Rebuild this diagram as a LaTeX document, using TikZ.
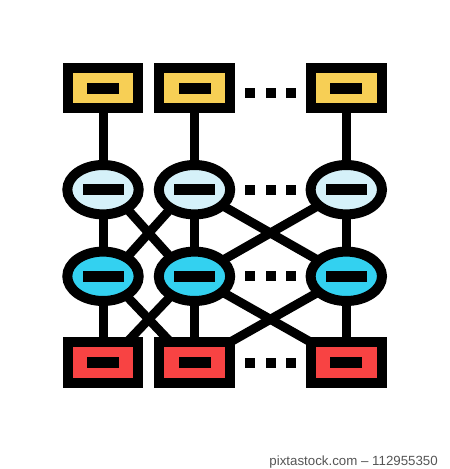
\documentclass[tikz,border=0pt]{standalone}
\usepackage{fontspec}
\newfontfamily\wmfont{Liberation Sans}
\usetikzlibrary{shapes.geometric,backgrounds,calc}
\definecolor{cYellow}{HTML}{F7CF55}
\definecolor{cLight}{HTML}{D5F1F9}
\definecolor{cCyan}{HTML}{33D1F0}
\definecolor{cRed}{HTML}{F84343}
\definecolor{cMark}{HTML}{555555}
\begin{document}
\begin{tikzpicture}[x=1pt,y=-1pt,
  box/.style={draw=black,line width=10pt,rectangle,minimum width=70.6pt,minimum height=40.6pt,inner sep=0pt},
  oval/.style={draw=black,line width=10pt,ellipse,minimum width=71.4pt,minimum height=49.4pt,inner sep=0pt},
  sq/.style={fill=black,inner sep=0pt,minimum size=10pt},
  link/.style={line width=9pt,draw=black}]
\useasboundingbox (0,0) rectangle (450,469);
% top boxes
\node[box,fill=cYellow] (y1) at (103,88) {\rule{32pt}{11pt}};
\node[box,fill=cYellow] (y2) at (194.5,88) {\rule{32pt}{11pt}};
\node[box,fill=cYellow] (y3) at (346.3,88) {\rule{32pt}{11pt}};
% first ellipse row
\node[oval,fill=cLight] (a1) at (103,189.7) {\rule{41pt}{11pt}};
\node[oval,fill=cLight] (a2) at (194.5,189.7) {\rule{41pt}{11pt}};
\node[oval,fill=cLight] (a3) at (346.3,189.7) {\rule{41pt}{11pt}};
% second ellipse row
\node[oval,fill=cCyan] (b1) at (103,276.3) {\rule{41pt}{11pt}};
\node[oval,fill=cCyan] (b2) at (194.5,276.3) {\rule{41pt}{11pt}};
\node[oval,fill=cCyan] (b3) at (346.3,276.3) {\rule{41pt}{11pt}};
% bottom boxes
\node[box,fill=cRed] (r1) at (103,362.3) {\rule{32pt}{11pt}};
\node[box,fill=cRed] (r2) at (194.5,362.3) {\rule{32pt}{11pt}};
\node[box,fill=cRed] (r3) at (346.3,362.3) {\rule{32pt}{11pt}};
% dots
\foreach \r/\yy in {1/93,2/190,3/276,4/362.7}{
  \node[sq] (d\r a) at (250,\yy) {};
  \node[sq] (d\r b) at (271,\yy) {};
  \node[sq] (d\r c) at (291,\yy) {};
}
% connectors
\begin{pgfonlayer}{background}
\foreach \c in {1,2,3}{
  \draw[link] (y\c.center) -- (a\c.center);
  \draw[link] (a\c.center) -- (b\c.center);
  \draw[link] (b\c.center) -- (r\c.center);
}
\draw[link] ($(a1.center)+(20.75,15.5)$) -- ($(b2.center)+(-20.75,-15.5)$);
\draw[link] ($(a2.center)+(-20.75,15.5)$) -- ($(b1.center)+(20.75,-15.5)$);
\draw[link] ($(b1.center)+(23.75,19.9)$) -- ($(r2.center)+(-23.75,-19.9)$);
\draw[link] ($(b2.center)+(-23.75,19.9)$) -- ($(r1.center)+(23.75,-19.9)$);
\draw[link] (a2.center) -- (b3.center);
\draw[link] (a3.center) -- (b2.center);
\draw[link] (b2.center) -- (r3.center);
\draw[link] (b3.center) -- (r2.center);
\end{pgfonlayer}
% credit line
\node[anchor=base east,inner sep=0pt,text=cMark] (wm) at (438,465)
  {\wmfont\fontsize{13.3}{15}\selectfont pixtastock.com – 112955350};
\end{tikzpicture}
\end{document}
